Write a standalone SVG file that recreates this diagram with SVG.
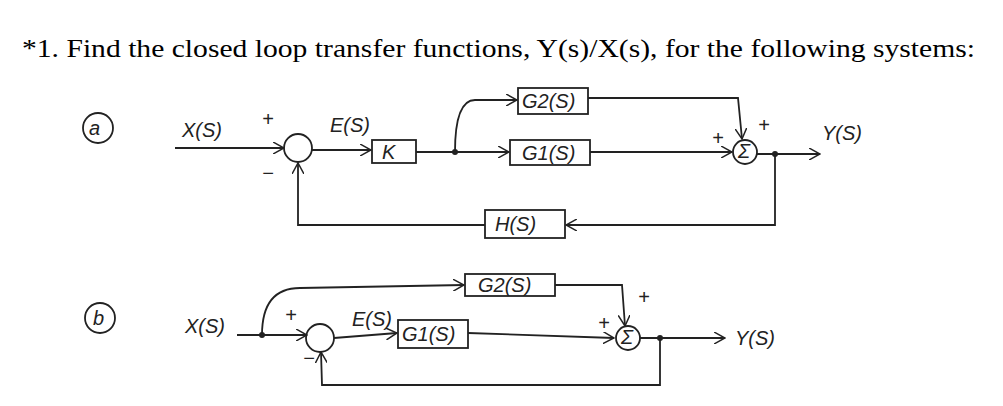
<svg xmlns="http://www.w3.org/2000/svg" width="1003" height="406" viewBox="0 0 1003 406">
<defs>
<marker id="ah" viewBox="0 0 12 12" refX="11" refY="6" markerWidth="12" markerHeight="12" markerUnits="userSpaceOnUse" orient="auto"><path d="M0,0 L11,6 L0,12" fill="none" stroke="#222" stroke-width="1.5"/></marker>
<style>
.l{fill:none;stroke:#222;stroke-width:1.8}
.h{font-family:"Liberation Sans",sans-serif;font-size:20px;fill:#222;font-style:italic}
.t{font-family:"Liberation Serif",serif;font-size:26px;fill:#000}
</style>
</defs>
<rect width="1003" height="406" fill="#fff"/>
<text class="t" x="22" y="57" textLength="953" lengthAdjust="spacingAndGlyphs">*1. Find the closed loop transfer functions, Y(s)/X(s), for the following systems:</text>
<g id="label-a"><circle class="l" cx="98" cy="128" r="15"/><text class="h" x="89" y="135">a</text></g>
<g id="xa"><text class="h" x="182" y="137">X(S)</text><text class="h" x="262" y="126">+</text><text class="h" x="262" y="180">−</text></g>
<g id="sum1a"><circle class="l" cx="298" cy="148" r="14"/></g>
<g id="ea"><text class="h" x="330" y="132" font-size="15">E(S)</text></g>
<g id="K"><rect class="l" x="372" y="140" width="44" height="23"/><text class="h" x="382" y="159">K</text></g>
<g id="G2a"><rect class="l" x="518" y="88" width="70" height="26"/><text class="h" x="522" y="108">G2(S)</text></g>
<g id="G1a"><rect class="l" x="510" y="140" width="80" height="25"/><text class="h" x="522" y="160">G1(S)</text></g>
<g id="sum2a"><circle class="l" cx="745" cy="152" r="12"/><text class="h" x="738" y="158" font-size="13">Σ</text><text class="h" x="712" y="145">+</text><text class="h" x="758" y="132">+</text></g>
<g id="ya"><text class="h" x="822" y="140">Y(S)</text></g>
<g id="Ha"><rect class="l" x="485" y="210" width="80" height="28"/><text class="h" x="495" y="231">H(S)</text></g>
<g id="connectors">
<path class="l" d="M175,148 L284,148" marker-end="url(#ah)"/>
<path class="l" d="M312,150 L371,150" marker-end="url(#ah)"/>
<path class="l" d="M416,152 L509,152" marker-end="url(#ah)"/>
<circle cx="455" cy="152" r="3" fill="#222"/>
<path class="l" d="M455,152 Q455,100 475,100 L517,100" marker-end="url(#ah)"/>
<path class="l" d="M588,98 L738,98 L742,139" marker-end="url(#ah)"/>
<path class="l" d="M590,152 L732,152" marker-end="url(#ah)"/>
<path class="l" d="M757,154 L820,154" marker-end="url(#ah)"/>
<circle cx="775" cy="154" r="3" fill="#222"/>
<path class="l" d="M775,154 L775,225 L566,225" marker-end="url(#ah)"/>
<path class="l" d="M485,225 L298,225 L298,163" marker-end="url(#ah)"/>
<path class="l" d="M237,335 L307,335" marker-end="url(#ah)"/>
<circle cx="262" cy="335" r="3" fill="#222"/>
<path class="l" d="M262,335 Q262,288 300,288 L464,285" marker-end="url(#ah)"/>
<path class="l" d="M334,338 L397,333" marker-end="url(#ah)"/>
<path class="l" d="M468,333 L614,338" marker-end="url(#ah)"/>
<path class="l" d="M555,285 L622,285 L625,326" marker-end="url(#ah)"/>
<path class="l" d="M640,338 L725,338" marker-end="url(#ah)"/>
<circle cx="660" cy="338" r="3" fill="#222"/>
<path class="l" d="M660,338 L660,385 L322,385 L321,352" marker-end="url(#ah)"/>
</g>
<g id="label-b"><circle class="l" cx="100" cy="318" r="15"/><text class="h" x="93" y="325">b</text></g>
<g id="xb"><text class="h" x="185" y="333">X(S)</text><text class="h" x="285" y="322">+</text><text class="h" x="303" y="365">−</text></g>
<g id="sum1b"><circle class="l" cx="320" cy="338" r="14"/></g>
<g id="eb"><text class="h" x="352" y="326" font-size="15">E(S)</text></g>
<g id="G2b"><rect class="l" x="465" y="274" width="90" height="22"/><text class="h" x="478" y="292">G2(S)</text></g>
<g id="G1b"><rect class="l" x="398" y="320" width="70" height="28"/><text class="h" x="402" y="341">G1(S)</text></g>
<g id="sum2b"><circle class="l" cx="628" cy="338" r="12"/><text class="h" x="621" y="344" font-size="13">Σ</text><text class="h" x="598" y="330">+</text><text class="h" x="638" y="304">+</text></g>
<g id="yb"><text class="h" x="735" y="345">Y(S)</text></g>
</svg>
